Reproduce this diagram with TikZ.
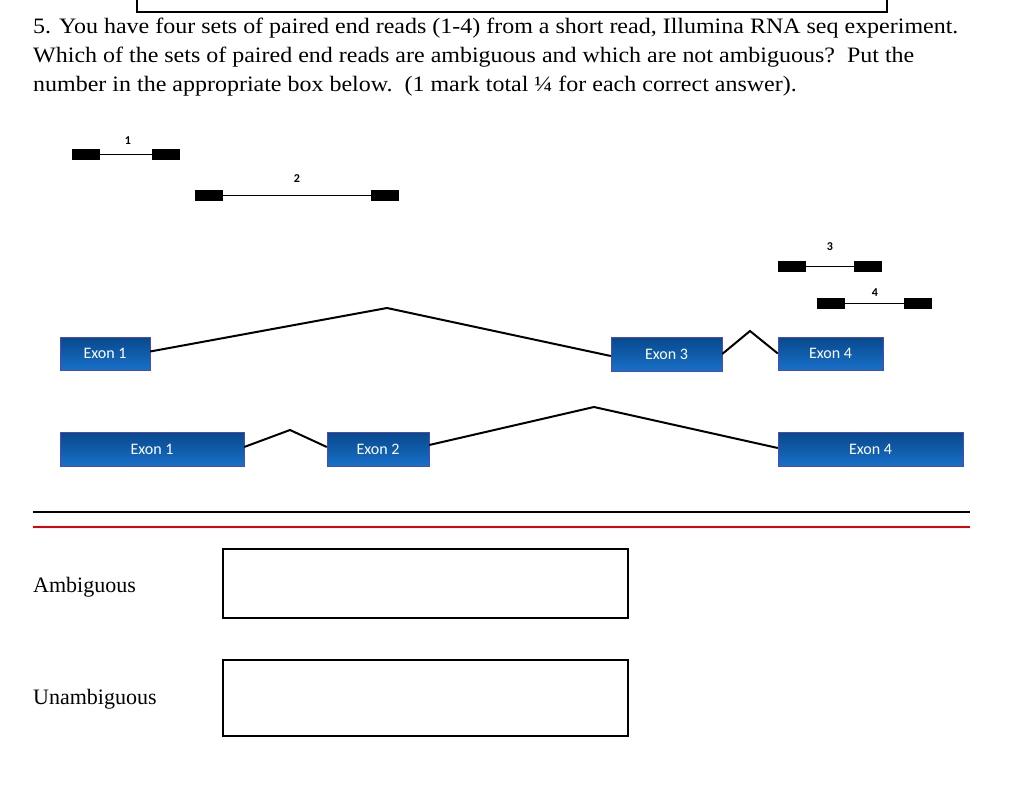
\documentclass[tikz,border=0pt]{standalone}
\usepackage{fontspec}
\setmainfont{Liberation Serif}
\newfontfamily\carl{Carlito}
\begin{document}
\begin{tikzpicture}[x=1pt,y=-1pt,
 exon/.style={draw=blue!40!gray,top color={rgb,255:red,8;green,72;blue,140},bottom color={rgb,255:red,24;green,112;blue,200},text=white,font=\carl\fontsize{16}{16}\selectfont,inner sep=0pt},
 rd/.style={fill=black,inner sep=0pt,minimum width=28pt,minimum height=11pt},
 lab/.style={font=\carl\bfseries\fontsize{12}{12}\selectfont},
 intron/.style={line width=2pt},
 q/.style={font=\fontsize{22}{22}\selectfont,anchor=base west,inner sep=0pt}]
\useasboundingbox (0,0) rectangle (1024,802);
\draw[line width=1.2pt] (137,0) -- (137,12) -- (887,12) -- (887,0);
\node[q,xscale=1.09,transform shape] (t1) at (33,34) {5. You have four sets of paired end reads (1-4) from a short read, Illumina RNA seq experiment.};
\node[q,xscale=1.09,transform shape] (t2) at (33,63) {Which of the sets of paired end reads are ambiguous and which are not ambiguous?\ \ Put the};
\node[q,xscale=1.09,transform shape] (t3) at (33,92) {number in the appropriate box below.\ \ (1 mark total \char"00BC\ for each correct answer).};
% reads
\node[rd] (r1a) at (86,155) {}; \node[rd] (r1b) at (166,155) {};
\draw[line width=1pt] (r1a) -- (r1b); \node[lab] (l1) at (128,141) {1};
\node[rd] (r2a) at (209,195.5) {}; \node[rd] (r2b) at (385,195.5) {};
\draw[line width=1pt] (r2a) -- (r2b); \node[lab] (l2) at (297,179) {2};
\node[rd] (r3a) at (792,266.5) {}; \node[rd] (r3b) at (868,266.5) {};
\draw[line width=1pt] (r3a) -- (r3b); \node[lab] (l3) at (830,247) {3};
\node[rd] (r4a) at (831,303.5) {}; \node[rd] (r4b) at (918,303.5) {};
\draw[line width=1pt] (r4a) -- (r4b); \node[lab] (l4) at (875,293) {4};
% row 1
\node[exon,minimum width=90pt,minimum height=33pt] (e1) at (105,353.5) {Exon 1};
\node[exon,minimum width=111pt,minimum height=34pt] (e3) at (666.5,354) {Exon 3};
\node[exon,minimum width=105pt,minimum height=33pt] (e4) at (830.5,353.5) {Exon 4};
\coordinate (p1) at (387,308); \coordinate (p2) at (750,331);
\draw[intron] (e1.east) ++(0,-2) -- (p1) -- ([yshift=-2pt]e3.west);
\draw[intron] (e3.east) -- (p2) -- (e4.west);
% row 2
\node[exon,minimum width=184pt,minimum height=34pt] (f1) at (152,449) {Exon 1};
\node[exon,minimum width=102pt,minimum height=34pt] (f2) at (378,449) {Exon 2};
\node[exon,minimum width=185pt,minimum height=34pt] (f4) at (870.5,449) {Exon 4};
\coordinate (p3) at (290,430); \coordinate (p4) at (594,407);
\draw[intron] ([yshift=2pt]f1.east) -- (p3) -- ([yshift=2pt]f2.west);
\draw[intron] ([yshift=4pt]f2.east) -- (p4) -- ([yshift=1pt]f4.west);
% rules
\draw[line width=2.5pt] (33,512) -- (970,512);
\draw[line width=2.5pt,red!90!black] (33,527) -- (970,527);
% answer boxes
\node[q] (a) at (33,592) {Ambiguous};
\draw[line width=1.2pt] (223,549) rectangle (628,618);
\node[q] (u) at (33,704) {Unambiguous};
\draw[line width=1.2pt] (223,660) rectangle (628,736);
\end{tikzpicture}
\end{document}
